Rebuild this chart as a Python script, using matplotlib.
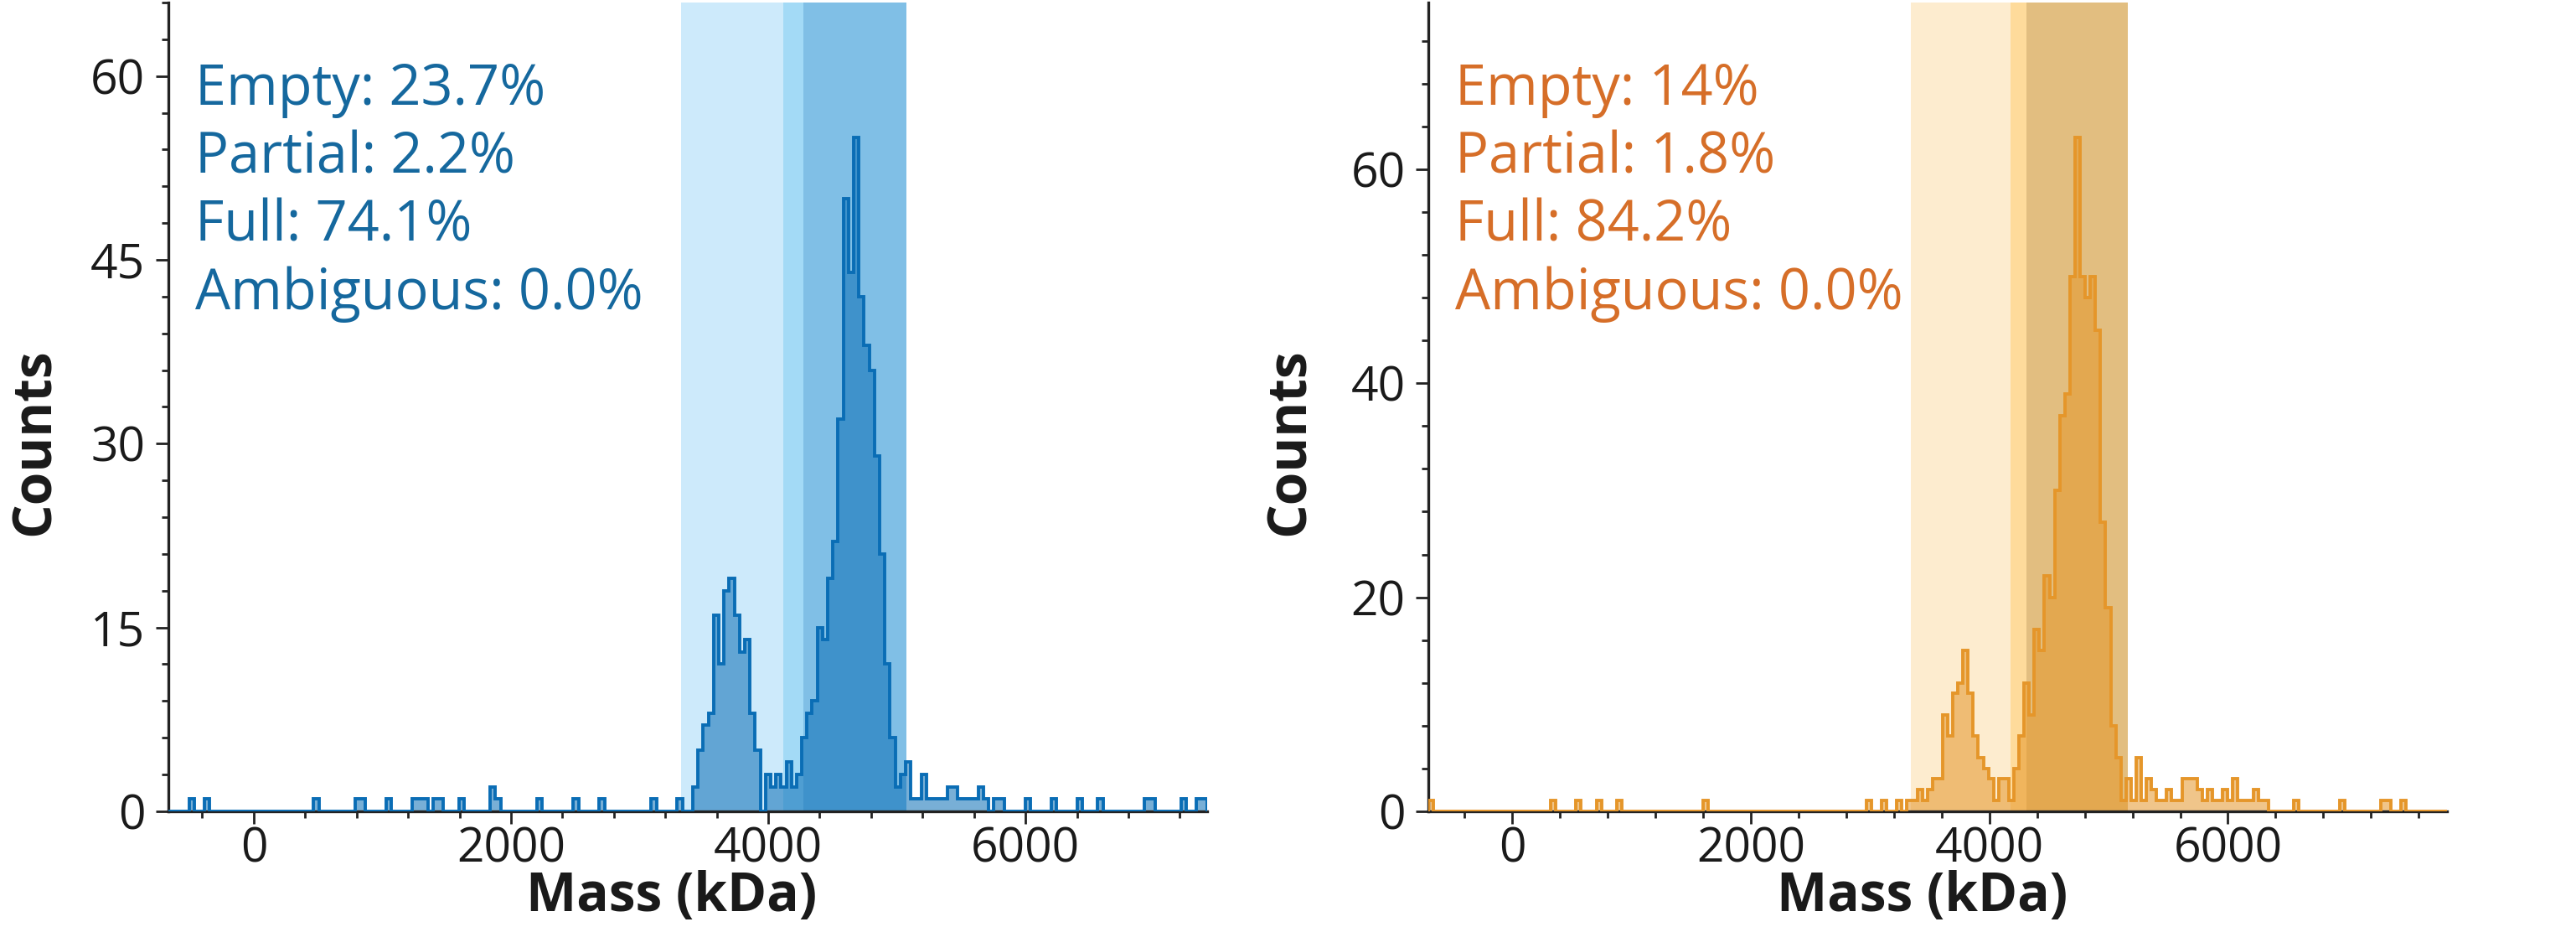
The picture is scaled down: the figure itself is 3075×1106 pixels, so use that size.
import numpy as np
import matplotlib
matplotlib.use("Agg")
import matplotlib.pyplot as plt
from matplotlib.ticker import MultipleLocator

plt.rcParams["font.family"] = ["Open Sans", "DejaVu Sans"]

# mass range spanned by the 200 histogram bins (kDa)
left_range = (-665, 7410)
right_range = (-702, 7834)

# counts per bin, 20 bins per row
left_counts = [
    0, 0, 0, 0, 1, 0, 0, 1, 0, 0, 0, 0, 0, 0, 0, 0, 0, 0, 0, 0,
    0, 0, 0, 0, 0, 0, 0, 0, 1, 0, 0, 0, 0, 0, 0, 0, 1, 1, 0, 0,
    0, 0, 1, 0, 0, 0, 0, 1, 1, 1, 0, 1, 1, 0, 0, 0, 1, 0, 0, 0,
    0, 0, 2, 1, 0, 0, 0, 0, 0, 0, 0, 1, 0, 0, 0, 0, 0, 0, 1, 0,
    0, 0, 0, 1, 0, 0, 0, 0, 0, 0, 0, 0, 0, 1, 0, 0, 0, 0, 1, 0,
    0, 2, 5, 7, 8, 16, 12, 18, 19, 16, 13, 14, 8, 5, 0, 3, 2, 3, 2, 4,
    2, 3, 6, 8, 9, 15, 14, 19, 22, 32, 50, 44, 55, 42, 38, 36, 29, 21, 12, 6,
    2, 3, 4, 1, 1, 3, 1, 1, 1, 1, 2, 2, 1, 1, 1, 1, 2, 1, 0, 1,
    1, 0, 0, 0, 0, 1, 0, 0, 0, 0, 1, 0, 0, 0, 0, 1, 0, 0, 0, 1,
    0, 0, 0, 0, 0, 0, 0, 0, 1, 1, 0, 0, 0, 0, 0, 1, 0, 0, 1, 1,
]
right_counts = [
    1, 0, 0, 0, 0, 0, 0, 0, 0, 0, 0, 0, 0, 0, 0, 0, 0, 0, 0, 0,
    0, 0, 0, 0, 1, 0, 0, 0, 0, 1, 0, 0, 0, 1, 0, 0, 0, 1, 0, 0,
    0, 0, 0, 0, 0, 0, 0, 0, 0, 0, 0, 0, 0, 0, 1, 0, 0, 0, 0, 0,
    0, 0, 0, 0, 0, 0, 0, 0, 0, 0, 0, 0, 0, 0, 0, 0, 0, 0, 0, 0,
    0, 0, 0, 0, 0, 0, 1, 0, 0, 1, 0, 0, 1, 0, 1, 1, 2, 1, 2, 3,
    3, 9, 7, 11, 12, 15, 11, 7, 5, 4, 3, 1, 3, 3, 1, 4, 7, 12, 9, 17,
    15, 22, 20, 30, 37, 39, 50, 63, 50, 48, 50, 45, 27, 19, 8, 5, 1, 3, 1, 5,
    1, 3, 2, 1, 1, 2, 1, 1, 3, 3, 3, 2, 1, 2, 1, 1, 2, 1, 3, 1,
    1, 1, 2, 1, 1, 0, 0, 0, 0, 0, 1, 0, 0, 0, 0, 0, 0, 0, 0, 1,
    0, 0, 0, 0, 0, 0, 0, 1, 1, 0, 0, 1, 0, 0, 0, 0, 0, 0, 0, 0,
]

# shaded gates (kDa): empty, partial, full
left_regions = [(3320, 4115), (4115, 4276), (4276, 5076)]
right_regions = [(3340, 4178), (4178, 4314), (4314, 5161)]

left_labels = ["Empty: 23.7%", "Partial: 2.2%", "Full: 74.1%", "Ambiguous: 0.0%"]
right_labels = ["Empty: 14%", "Partial: 1.8%", "Full: 84.2%", "Ambiguous: 0.0%"]

panels = [
    dict(rect=[0.0653, 0.1250, 0.4032, 0.8722], counts=left_counts, rng=left_range,
         regions=left_regions, region_colors=["#cdeafb", "#a3daf6", "#80bfe6"],
         line="#0a6db5", text="#15689e", labels=left_labels,
         ymax=66, ymajor=15, yminor=3, ylabel_x=-0.128),
    dict(rect=[0.5545, 0.1250, 0.3953, 0.8722], counts=right_counts, rng=right_range,
         regions=right_regions, region_colors=["#fdeccf", "#fedb9b", "#e2be80"],
         line="#e5962a", text="#d66e28", labels=right_labels,
         ymax=75.6, ymajor=20, yminor=4, ylabel_x=-0.136),
]

fig = plt.figure(figsize=(30.75, 11.06), dpi=100)

for p in panels:
    ax = fig.add_axes(p["rect"])
    edges = np.linspace(p["rng"][0], p["rng"][1], len(p["counts"]) + 1)

    for (lo, hi), c in zip(p["regions"], p["region_colors"]):
        ax.axvspan(lo, hi, color=c, lw=0, zorder=0)

    ax.stairs(p["counts"], edges, fill=True, color=p["line"], alpha=0.55, lw=0, zorder=1)
    ax.stairs(p["counts"], edges, color=p["line"], lw=2.8, zorder=3)

    ax.set_xlim(p["rng"])
    ax.set_ylim(0, p["ymax"])
    ax.xaxis.set_major_locator(MultipleLocator(2000))
    ax.xaxis.set_minor_locator(MultipleLocator(400))
    ax.yaxis.set_major_locator(MultipleLocator(p["ymajor"]))
    ax.yaxis.set_minor_locator(MultipleLocator(p["yminor"]))

    for side in ["top", "right"]:
        ax.spines[side].set_visible(False)
    for side in ["left", "bottom"]:
        ax.spines[side].set_linewidth(2.4)
        ax.spines[side].set_color("#222222")

    ax.tick_params(which="major", length=10.8, width=2, color="#222222",
                   labelsize=41, labelcolor="#1a1a1a")
    ax.tick_params(which="minor", length=5.5, width=2, color="#222222")
    ax.tick_params(axis="x", which="major", pad=2)
    ax.tick_params(axis="y", which="major", pad=9)

    ax.set_xlabel("Mass (kDa)", fontsize=46, fontweight="bold", color="#1a1a1a")
    ax.set_ylabel("Counts", fontsize=46, fontweight="bold", color="#1a1a1a", va="center")
    ax.xaxis.set_label_coords(0.485, -0.073)
    ax.yaxis.set_label_coords(p["ylabel_x"], 0.457)

    ax.text(0.026, 0.927, "\n".join(p["labels"]), transform=ax.transAxes,
            ha="left", va="top", fontsize=48, color=p["text"], linespacing=1.27)

fig.savefig("out.png", dpi=100)
